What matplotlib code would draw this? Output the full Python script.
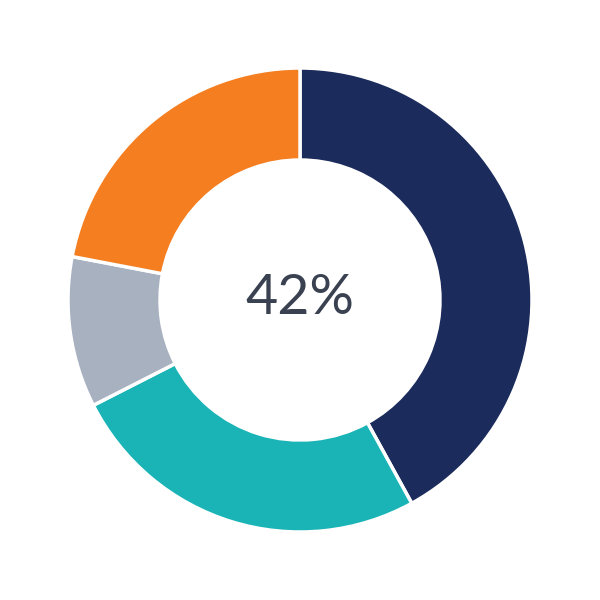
import matplotlib
matplotlib.use("Agg")
import matplotlib.pyplot as plt

labels = ["Navy", "Teal", "Gray", "Orange"]
values = [42, 25.5, 10.5, 22]
colors = ["#1b2b5b", "#1ab4b7", "#a8b1c0", "#f47e20"]
center_label = "42%"

fig = plt.figure(figsize=(6, 6), dpi=100)
ax = fig.add_axes([0, 0, 1, 1])
ax.pie(values, colors=colors, startangle=90, counterclock=False, radius=232,
       wedgeprops=dict(width=92, edgecolor="white", linewidth=2.5))
ax.text(0, 2, center_label, ha="center", va="center", fontsize=40,
        family="Lato", fontweight="normal", color="#3a4150")
ax.set_xlim(-300, 300)
ax.set_ylim(-300, 300)
ax.set_aspect("equal")
ax.axis("off")
fig.savefig("out.png", dpi=100, facecolor="white")
